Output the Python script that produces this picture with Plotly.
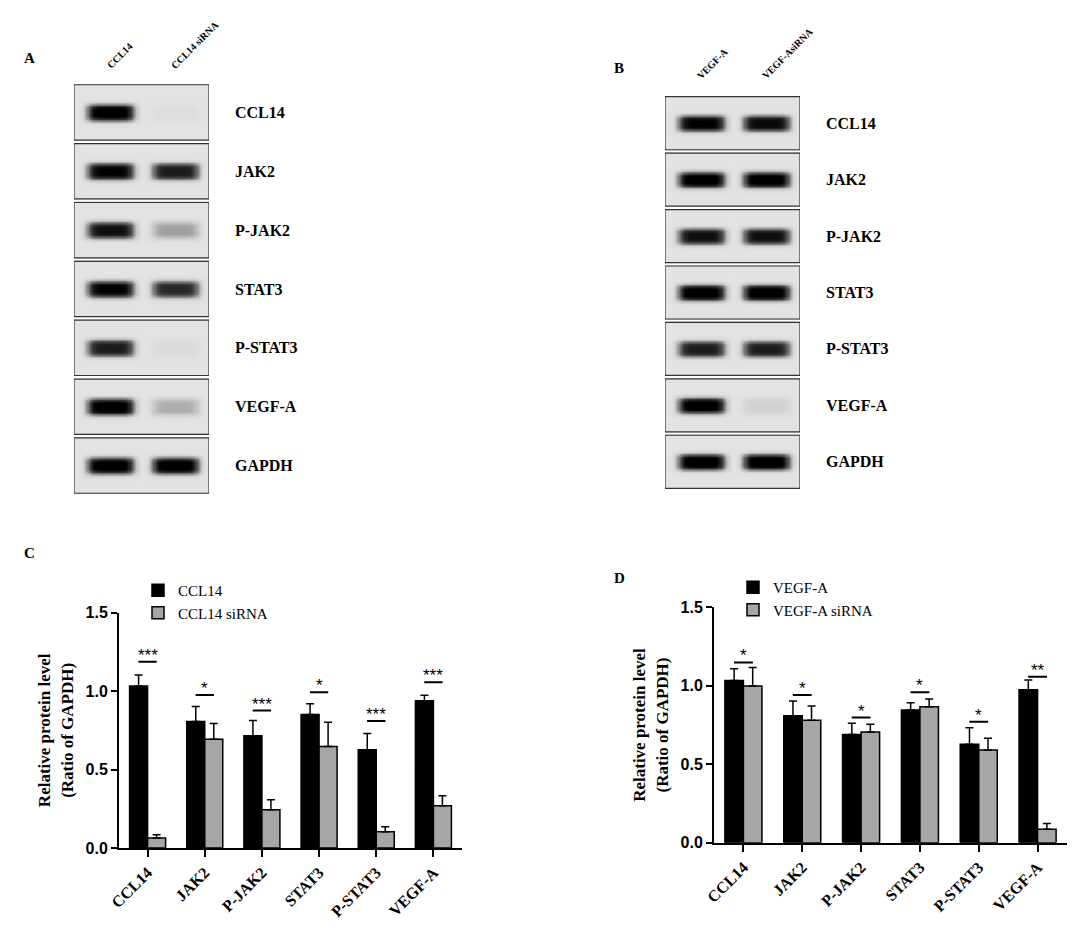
import plotly.graph_objects as go
import numpy as np

# ---- data ----
proteins = ["CCL14", "JAK2", "P-JAK2", "STAT3", "P-STAT3", "VEGF-A"]
blot_rows = ["CCL14", "JAK2", "P-JAK2", "STAT3", "P-STAT3", "VEGF-A", "GAPDH"]

# band darkness read by eye (lane 1, lane 2)
bands_a = [[1.0, 0.04], [0.95, 0.85], [0.9, 0.35], [0.95, 0.8], [0.85, 0.06], [1.0, 0.3], [1.0, 1.0]]
bands_b = [[0.95, 0.92], [1.0, 1.0], [0.9, 0.9], [1.0, 1.0], [0.85, 0.85], [1.0, 0.12], [1.0, 1.0]]
lanes_a = ["CCL14", "CCL14 siRNA"]
lanes_b = ["VEGF-A", "VEGF-AsiRNA"]

c_ctrl = [1.033, 0.806, 0.715, 0.851, 0.626, 0.938]
c_ctrl_err = [1.103, 0.902, 0.813, 0.919, 0.730, 0.974]
c_si = [0.064, 0.694, 0.244, 0.647, 0.104, 0.269]
c_si_err = [0.085, 0.794, 0.308, 0.802, 0.136, 0.333]
c_sig_y = [1.188, 0.976, 0.876, 0.993, 0.810, 1.057]
c_sig = ["***", "*", "***", "*", "***", "***"]

d_ctrl = [1.033, 0.809, 0.690, 0.846, 0.627, 0.975]
d_ctrl_err = [1.109, 0.903, 0.761, 0.892, 0.733, 1.037]
d_si = [0.999, 0.780, 0.705, 0.867, 0.591, 0.085]
d_si_err = [1.117, 0.871, 0.754, 0.916, 0.665, 0.123]
d_sig_y = [1.149, 0.941, 0.797, 0.958, 0.771, 1.058]
d_sig = ["*", "*", "*", "*", "*", "**"]

TIMES = "Liberation Serif"
LANE_X = [0.27, 0.75]
W, H = 1080, 935
PAD = 8  # page body margin


def xp(px):
    return (px - PAD) / W


def yp(py):
    return 1 - (py - PAD) / H


fig = go.Figure()


def blot_image(bands):
    xs = np.linspace(0, 1, 120)
    ys = []
    zs = []
    for i, (b1, b2) in enumerate(bands):
        for t in np.linspace(0.03, 0.97, 40):
            ys.append(i + t)
            row = np.full_like(xs, 0.1)
            for lx, b in zip(LANE_X, (b1, b2)):
                px = np.exp(-((xs - lx) / 0.18) ** 6)
                py = np.exp(-((t - 0.5) / 0.15) ** 4)
                row = row + 0.95 * b * px * py
            zs.append(np.clip(row, 0, 1))
        ys.append(i + 0.985)
        zs.append(np.full_like(xs, np.nan))
    return xs, ys, zs


def add_blot(bands, lanes, xa, ya, xdom, ydom, label_x, lane_lab):
    xs, ys, zs = blot_image(bands)
    fig.add_trace(go.Heatmap(x=xs, y=ys, z=zs, xaxis=xa, yaxis=ya, zmin=0, zmax=1,
                             zsmooth="best", showscale=False, hoverinfo="skip",
                             colorscale=[[0, "#f2f2f2"], [0.3, "#c4c4c4"], [1, "#000000"]]))
    n = xa[1:]
    fig.update_layout(**{
        f"xaxis{n}": dict(domain=xdom, range=[0, 1], visible=False, anchor=ya, automargin=False),
        f"yaxis{n}": dict(domain=ydom, range=[7, 0], visible=False, anchor=xa, automargin=False),
    })
    for i, name in enumerate(blot_rows):
        fig.add_shape(type="rect", xref=xa, yref=ya, x0=0, x1=1, y0=i + 0.03, y1=i + 0.97,
                      line=dict(color="#333", width=1.2))
        fig.add_annotation(x=label_x, xref="paper", y=i + 0.5, yref=ya, text=f"<b>{name}</b>",
                           showarrow=False, xanchor="left", font=dict(family=TIMES, size=16, color="black"))
    for lx, lab, (px0, py0) in zip(LANE_X, lanes, lane_lab):
        fig.add_annotation(x=px0, y=py0, xref="paper", yref="paper", text=f"<b>{lab}</b>",
                           textangle=-45, showarrow=False, xanchor="left", yanchor="bottom",
                           font=dict(family=TIMES, size=10, color="black"))


add_blot(bands_a, lanes_a, "x3", "y3", [xp(74), xp(209)], [yp(495), yp(83)], xp(233),
         [(xp(102), yp(73)), (xp(166), yp(73))])
add_blot(bands_b, lanes_b, "x4", "y4", [xp(665), xp(800)], [yp(490), yp(95)], xp(824),
         [(xp(692), yp(84)), (xp(757), yp(84))])


def add_bars(ctrl, ctrl_err, si, si_err, sig_y, sig, names, xa, ya, legend):
    for vals, errs, color, name, off in ((ctrl, ctrl_err, "black", names[0], -1),
                                         (si, si_err, "#a6a6a8", names[1], 1)):
        fig.add_trace(go.Bar(
            x=list(range(len(proteins))), y=vals, name=name, xaxis=xa, yaxis=ya, legend=legend,
            marker=dict(color=color, line=dict(color="black", width=1.5)),
            offsetgroup=str(off),
            error_y=dict(type="data", symmetric=False, array=[e - v for e, v in zip(errs, vals)],
                         arrayminus=[0] * len(vals), color="black", thickness=1.5, width=4),
        ))
    for i, (sy, s) in enumerate(zip(sig_y, sig)):
        fig.add_trace(go.Scatter(x=[i - 0.16, i + 0.16], y=[sy, sy], mode="lines", xaxis=xa, yaxis=ya,
                                 line=dict(color="black", width=2), showlegend=False, hoverinfo="skip"))
        fig.add_annotation(x=i, y=sy, xref=xa, yref=ya, text=s, showarrow=False, yanchor="bottom",
                           yshift=-5, font=dict(family="Liberation Sans", size=17, color="black"))


add_bars(c_ctrl, c_ctrl_err, c_si, c_si_err, c_sig_y, c_sig, ["CCL14", "CCL14 siRNA"], "x", "y", "legend")
add_bars(d_ctrl, d_ctrl_err, d_si, d_si_err, d_sig_y, d_sig, ["VEGF-A", "VEGF-A siRNA"], "x2", "y2", "legend2")

xcommon = dict(range=[-0.5, 5.5], tickvals=list(range(6)), ticktext=[f"<b>{p}</b>" for p in proteins],
               tickangle=-45, showline=True, linecolor="black", linewidth=2, ticks="outside",
               ticklen=7, tickwidth=2, tickcolor="black", showgrid=False, zeroline=False, automargin=False,
               tickfont=dict(family=TIMES, size=16, color="black"))
ycommon = dict(range=[0, 1.5], tickvals=[0, 0.5, 1.0, 1.5], ticktext=["<b>0.0</b>", "<b>0.5</b>", "<b>1.0</b>", "<b>1.5</b>"],
               showline=True, linecolor="black", linewidth=2, ticks="outside", ticklen=6, tickwidth=2,
               tickcolor="black", showgrid=False, zeroline=False, automargin=False,
               tickfont=dict(family="Liberation Sans", size=16, color="black"),
               title=dict(text="<b>Relative protein level<br>(Ratio of GAPDH)</b>",
                          font=dict(family=TIMES, size=17, color="black"), standoff=8))

fig.update_layout(
    width=W, height=H, margin=dict(l=0, r=0, t=0, b=0, autoexpand=False),
    plot_bgcolor="white", paper_bgcolor="white",
    barmode="group", bargap=0.37, bargroupgap=0,
    xaxis=dict(domain=[xp(119), xp(462)], anchor="y", **xcommon),
    yaxis=dict(domain=[yp(848), yp(612.7)], anchor="x", **ycommon),
    xaxis2=dict(domain=[xp(714), xp(1067)], anchor="y2", **xcommon),
    yaxis2=dict(domain=[yp(842.7), yp(607.3)], anchor="x2", **ycommon),
    legend=dict(x=xp(138), y=yp(574), xanchor="left", yanchor="top", tracegroupgap=4,
                font=dict(family=TIMES, size=15, color="black"), bgcolor="rgba(0,0,0,0)"),
    legend2=dict(x=xp(733), y=yp(571), xanchor="left", yanchor="top",
                 font=dict(family=TIMES, size=15, color="black"), bgcolor="rgba(0,0,0,0)"),
    showlegend=True,
)

for letter, px, py in (("A", 22, 48), ("B", 612, 58), ("C", 22, 553), ("D", 612, 578)):
    fig.add_annotation(x=xp(px), y=yp(py), xref="paper", yref="paper", text=f"<b>{letter}</b>",
                       showarrow=False, xanchor="left", font=dict(family=TIMES, size=15, color="black"))

fig.write_html("out.html")
